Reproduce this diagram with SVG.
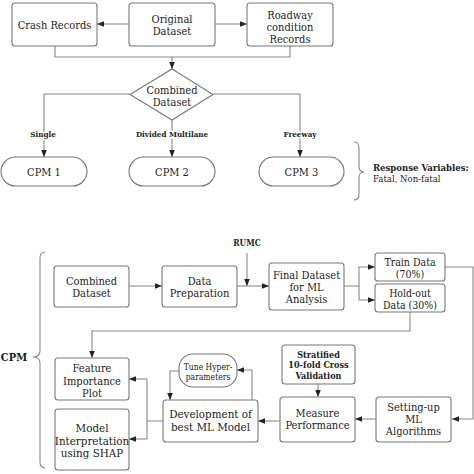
<svg xmlns="http://www.w3.org/2000/svg" width="474" height="474" viewBox="0 0 474 474">
<defs>
<marker id="ah" viewBox="0 0 10 10" refX="10" refY="5" markerWidth="7" markerHeight="7" markerUnits="userSpaceOnUse" orient="auto">
<path d="M0,1 L10,5 L0,9 z" fill="#222"/>
</marker>
<style>
.box{fill:#fff;stroke:#777;stroke-width:1.1}
.c{fill:none;stroke:#888;stroke-width:1.1}
.a{fill:none;stroke:#888;stroke-width:1.1;marker-end:url(#ah)}
text{font-family:"DejaVu Serif Condensed","DejaVu Serif",serif;font-stretch:condensed;fill:#222;text-anchor:middle;font-size:11px}
.b{font-weight:bold}
.lbl{font-weight:bold;font-size:8px;paint-order:stroke;stroke:#fff;stroke-width:3}
.sm{font-size:8.5px}
.l{text-anchor:start}
</style>
</defs>
<rect width="474" height="474" fill="#fff"/>
<g id="connectors">
<path class="a" d="M129,24 H97"/>
<path class="a" d="M215,24 H247"/>
<path class="c" d="M55,46 V57 H290 V46"/>
<path class="a" d="M172,57 V69"/>
<path class="a" d="M130,94 H44 V157"/>
<path class="a" d="M172,120 V157"/>
<path class="a" d="M213,94 H300 V157"/>
<path class="a" d="M129,286 H162"/>
<path class="a" d="M237,286 H269"/>
<path class="a" d="M247,253 V286"/>
<path class="a" d="M344,286 H359 V267 H375"/>
<path class="a" d="M359,286 V300 H375"/>
<path class="a" d="M445,267 H473 V419 H452"/>
<path class="a" d="M410,312 V331 H92 V358"/>
<path class="a" d="M376,419 H355"/>
<path class="a" d="M318,384 V397"/>
<path class="a" d="M280,421 H258"/>
<path class="a" d="M252,400 V370 H237"/>
<path class="a" d="M179,371 H170 V400"/>
<path class="c" d="M163,421 H147 M147,379 V439"/>
<path class="a" d="M147,379 H129"/>
<path class="a" d="M147,439 H129"/>
<path class="c" d="M354,142 Q359,142 359,148 V166 Q359,172 364,172 Q359,172 359,178 V194 Q359,200 354,200"/>
<path class="c" d="M45,252 Q40,252 40,258 V351 Q40,357 33,357 Q40,357 40,363 V462 Q40,468 45,468"/>
</g>
<g id="labels">
<text class="lbl" x="43" y="137">Single</text>
<text class="lbl" x="172" y="137">Divided Multilane</text>
<text class="lbl" x="300" y="137">Freeway</text>
<text class="b" x="247" y="246" style="font-size:8.5px">RUMC</text>
</g>
<g id="crash"><rect class="box" x="12" y="3" width="85" height="43" rx="3"/><text x="54.5" y="28.5">Crash Records</text></g>
<g id="original"><rect class="box" x="129" y="3" width="86" height="43" rx="3"/><text x="172" y="23">Original</text><text x="172" y="35">Dataset</text></g>
<g id="roadway"><rect class="box" x="247" y="3" width="86" height="43" rx="3"/><text x="290" y="19">Roadway</text><text x="290" y="31">condition</text><text x="290" y="43">Records</text></g>
<g id="combined"><path class="box" d="M172,69 L213,94.5 L172,120 L130,94.5 z"/><text x="172" y="93.5">Combined</text><text x="172" y="105.5">Dataset</text></g>
<g id="cpm1"><rect class="box" x="1" y="157" width="86" height="29" rx="14.5"/><text x="44" y="176">CPM 1</text></g>
<g id="cpm2"><rect class="box" x="129" y="157" width="86" height="29" rx="14.5"/><text x="172" y="176">CPM 2</text></g>
<g id="cpm3"><rect class="box" x="259" y="157" width="85" height="29" rx="14.5"/><text x="301.5" y="176">CPM 3</text></g>
<g id="response"><text class="b l" x="373" y="170.5" style="font-size:9.5px">Response Variables:</text><text class="l" x="373" y="181.5" style="font-size:9.5px">Fatal, Non-fatal</text></g>
<g id="cpm-label"><text class="b" x="14" y="361">CPM</text></g>
<g id="combined2"><rect class="box" x="54" y="266" width="75" height="41" rx="3"/><text x="91.5" y="284.5">Combined</text><text x="91.5" y="297">Dataset</text></g>
<g id="prep"><rect class="box" x="162" y="266" width="75" height="41" rx="3"/><text x="199.5" y="284.5">Data</text><text x="199.5" y="297">Preparation</text></g>
<g id="final"><rect class="box" x="269" y="263" width="75" height="47" rx="3"/><text x="306.5" y="279">Final Dataset</text><text x="306.5" y="291">for ML</text><text x="306.5" y="303">Analysis</text></g>
<g id="train"><rect class="box" x="375" y="253" width="70" height="28" rx="3"/><text x="410" y="266" style="font-size:10.5px">Train Data</text><text x="410" y="277.5" style="font-size:10.5px">(70%)</text></g>
<g id="holdout"><rect class="box" x="375" y="284" width="70" height="28" rx="3"/><text x="410" y="297" style="font-size:10.5px">Hold-out</text><text x="410" y="308.5" style="font-size:10.5px">Data (30%)</text></g>
<g id="feature"><rect class="box" x="55" y="358" width="74" height="42" rx="3"/><text x="92" y="372">Feature</text><text x="92" y="384.5">Importance</text><text x="92" y="397">Plot</text></g>
<g id="interp"><rect class="box" x="55" y="409" width="74" height="61" rx="3"/><text x="92" y="432" style="font-size:11.5px">Model</text><text x="92" y="444.5" style="font-size:11.5px">Interpretation</text><text x="92" y="457" style="font-size:11.5px">using SHAP</text></g>
<g id="tune"><rect class="box" x="179" y="354" width="58" height="33" rx="14"/><text class="sm" x="208" y="369.5">Tune Hyper-</text><text class="sm" x="208" y="379.5">parameters</text></g>
<g id="develop"><rect class="box" x="163" y="400" width="95" height="42" rx="3"/><text x="210.5" y="417.5" style="font-size:11.5px">Development of</text><text x="210.5" y="431" style="font-size:11.5px">best ML Model</text></g>
<g id="stratified"><rect class="box" x="282" y="345" width="73" height="39" rx="3"/><text class="b" x="318.5" y="357.5" style="font-size:9px">Stratified</text><text class="b" x="318.5" y="368" style="font-size:9px">10-fold Cross</text><text class="b" x="318.5" y="378.5" style="font-size:9px">Validation</text></g>
<g id="measure"><rect class="box" x="280" y="397" width="75" height="45" rx="3"/><text x="317.5" y="416.5">Measure</text><text x="317.5" y="429">Performance</text></g>
<g id="setting"><rect class="box" x="376" y="397" width="75" height="45" rx="3"/><text x="413.5" y="410.5">Setting-up</text><text x="413.5" y="422.5">ML</text><text x="413.5" y="434.5">Algorithms</text></g>
</svg>
